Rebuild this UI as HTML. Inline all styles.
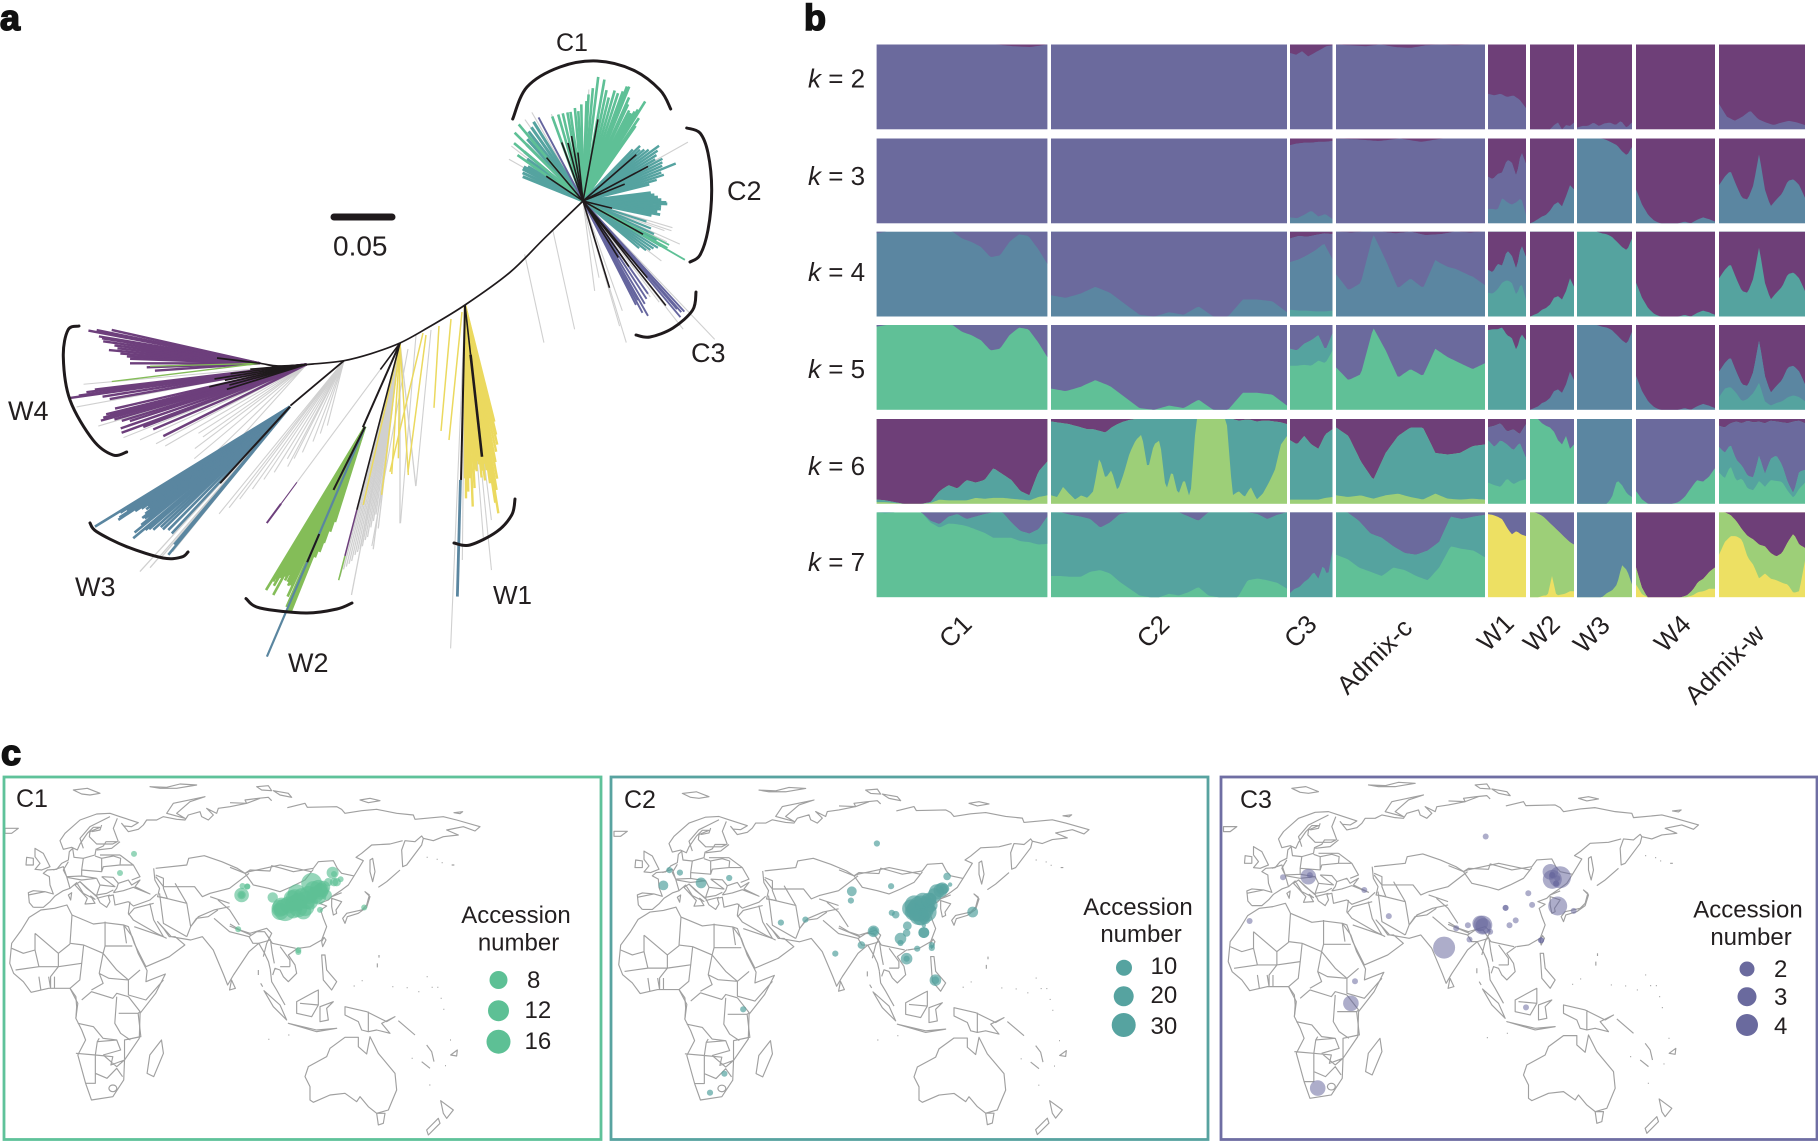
<!DOCTYPE html>
<html lang="en">
<head>
<meta charset="utf-8">
<title>Phylogeny, population structure and distribution of accessions</title>
<style>
html,body{margin:0;padding:0;background:#fff;}
svg{display:block;font-family:"Liberation Sans",sans-serif;}
.t{font-size:24px;fill:#231f20;}
.c{font-size:27px;fill:#231f20;}
.panel{font-size:36px;font-weight:700;fill:#111;stroke:#111;stroke-width:1.6px;}
#world path{fill:none;stroke:#a0a0a0;stroke-width:1.15;vector-effect:non-scaling-stroke;stroke-linejoin:round;}
</style>
</head>
<body>
<svg id="fig" xmlns="http://www.w3.org/2000/svg" width="1818" height="1142" viewBox="0 0 1818 1142">
<defs>
<clipPath id="clipC1"><rect x="5" y="778" width="595" height="360"/></clipPath>
<clipPath id="clipC2"><rect x="612" y="778" width="595" height="360"/></clipPath>
<clipPath id="clipC3"><rect x="1222" y="778" width="595" height="360"/></clipPath>
<g id="world">
<g transform="translate(0,770) scale(.33333)">
<path d="M100,412 L88,398 L85,368 L100,362 L135,365 L160,372 L150,345 L148,320 L130,310 L142,300 L170,298 L185,280 L205,270 L208,245 L218,235 L222,262 L250,265 L285,255 L288,238 L310,228 L318,215 L352,215 L338,222 L290,222 L268,200 L270,185 L300,172 L280,172 L262,190 L240,222 L232,240 L215,232 L190,238 L180,212 L195,190 L240,150 L290,132 L330,130 L360,140 L415,158 L395,170 L372,168 L365,160 L385,185 L415,178 L430,165 L440,150 L470,150 L490,140 L530,148 L555,150 L565,135 L600,125 L605,140 L625,150 L640,135 L620,115 L650,130 L655,115 L690,110 L740,100 L780,85"/>
<path d="M100,412 L130,412 L150,395 L165,378 L190,362 L210,355 L230,338 L250,370 L285,388 L272,378 L285,400 L255,402 L262,385 L225,345 L240,335 L260,355 L290,378 L300,398 L320,412 L330,395 L325,378 L340,375 L345,405 L385,395 L400,408 L450,390 L470,372"/>
<path d="M340,368 L350,355 L355,340 L385,330 L395,345 L420,330 L405,350 L450,372 L400,352 L370,362 L340,368"/>
<path d="M80,262 L100,265 L100,285 L78,285 Z M105,235 L130,250 L150,290 L125,300 L105,298 L120,280 L105,260 Z M15,175 L55,175 L35,190 L15,190 Z M500,130 L520,100 L615,80 L570,95 L530,130 L555,145 Z M220,60 L262,55 L300,70 L270,75 L245,72 Z M450,50 L500,52 L540,42 L590,45 L530,55 L480,55 Z M205,375 L215,368 L212,390 Z"/>
<path d="M352,145 L340,175 L355,215 M250,235 L240,205 L270,170 L300,155 L330,140 M305,165 L300,180 L275,185 M290,240 L335,235 L360,215 M300,255 L360,255 M250,265 L245,300 L305,305 L305,265 L285,258 M205,275 L190,300 L200,320 L245,318 L245,300 M160,300 L190,290 L200,320 L210,355 M305,265 L340,258 L362,265 L360,285 L310,290 M305,305 L310,290 L360,285 L400,285 L420,320 L395,330 M305,320 L340,322 L355,340 M305,320 L345,350 L300,345 L290,325 M245,318 L290,325 M200,322 L245,330 L290,325 M240,335 L290,380 M300,345 L290,375 L320,370 L340,360 M290,385 L330,375 M85,375 L135,365 M390,395 L385,430 L400,450 L470,490 L500,505 M360,255 L400,285"/>
</g>
<g transform="translate(230,770) scale(.33333)">
<path d="M0,98 L50,100 L45,90 L85,85 L115,82 L125,92 M172,113 L225,100 L232,112 L320,110 L335,118 L345,130 L395,122 L440,118 L500,130 L550,135 L555,148 L640,140 L680,150 L750,170 L735,183 L700,170 L650,180 L685,195 L640,200 L610,212 L580,205 L575,198 L555,215 L525,212 L515,240 L518,290 L530,285 L575,225 L580,205"/>
<path d="M518,212 L480,222 L425,225 L395,250 L378,262 L400,272 L372,318 L355,345 L335,360 L305,380 L295,390 L268,400 L290,408 L272,420 L280,445 L290,470 L275,510 L240,530 L205,535"/>
<path d="M420,270 L428,265 L435,305 L428,335 L420,305 Z M405,365 L418,375 L410,405 L395,420 L350,430 L338,445 L345,460 L352,440 L385,430 L410,412 L420,380 Z M305,385 L335,395 L318,420 L320,430 L310,435 L305,410 Z M282,502 L288,510 L278,530 L275,515 Z M80,50 L115,47 L125,62 L95,60 Z M130,62 L175,70 L185,82 L150,75 Z M390,90 L420,85 L450,92 L415,98 Z M672,128 L698,125 L690,131 Z"/>
<path d="M0,292 L45,310 L60,300 L120,303 L125,287 L155,295 L190,305 L250,295 L265,275 L310,272 L322,295 L335,310 L372,318 M45,310 L70,345 L115,355 L150,365 L185,350 L225,330 L250,298 M305,380 L335,368 M0,462 L30,480 L60,490 L110,475 L125,490 L110,520 L100,560 M590,262 h3 M620,268 h3 M635,278 h3 M665,285 h8 M510,300 L470,335 L445,352"/>
</g>
<g transform="translate(0,740) scale(.38911,.33333)">
<path d="M105,510 L75,532 L55,570 L30,610 L25,670 L35,700 L60,725 L80,757 L125,745 L180,745 L195,770 L197,800 L195,835 L210,870 L220,900 L200,945 L220,1030 L235,1080 L290,1070 L318,1020 L320,960 L358,895 L360,820 L400,760 L425,702 L375,725 L378,692 L355,640 L340,590 L318,555 L270,548 L240,552 L185,525 L172,495 L140,505 Z"/>
<path d="M318,555 L330,560 L345,610 L375,680 L435,650 L475,615 L450,590 L435,590 L420,565 L405,545 L440,590 L490,600 L520,590 L548,630 L575,705 L585,735 L600,705 L640,635 L665,610 L680,640 L690,665 L695,690"/>
<path d="M595,720 L605,745 L590,750 Z M415,900 L420,940 L395,1010 L378,1000 L385,945 Z M395,385 L398,420 L410,445 L405,470 L430,475 L420,445 L420,415 L400,405 M325,610 L318,555 M290,1035 a10,10 0 1 0 .1,0 Z"/>
<path d="M90,580 L150,640 L180,612 M185,525 L180,610 L215,615 M270,545 L270,618 M270,618 L340,618 M215,615 L265,640 L270,618 M265,640 L255,700 L265,730 L235,750 M215,615 L210,670 L150,680 L150,640 M90,630 L60,640 L30,625 M90,580 L90,630 L100,680 L150,680 M265,640 L300,690 L330,720 L360,690 M255,700 L280,715 L330,720 M330,720 L330,765 L375,780 L420,720 M150,680 L210,670 L205,720 L180,745 M150,680 L130,710 L130,745 M100,710 L105,750 M125,710 L130,745 M140,710 L140,745 M40,690 L100,680 M180,745 L200,790 L195,835 M200,850 L240,860 L265,895 L300,900 M210,780 L235,755 L290,775 L300,760 L330,770 M300,770 L295,850 L310,880 L335,900 M330,770 L360,815 L355,820 L305,820 M355,820 L362,890 L320,900 M195,940 L245,945 L250,905 L255,895 M195,940 L245,945 L245,1030 L220,1030 M245,945 L290,950 L285,975 L320,960 M320,960 L320,900 L360,890 M265,945 L300,980 L320,960 M250,905 L300,900 L310,930 L265,945 M245,1000 L275,1015 L300,985 L315,1010"/>
<path d="M400,385 L480,375 L485,355 L525,347 L570,365 L610,385 L630,400 L640,395 L720,375 L800,395 M400,410 L420,440 L500,440 L520,470 L540,460 L590,445 L640,400 M450,430 L480,490 M410,470 L480,490 L490,560 L510,530 L550,510 L590,500 M410,460 L420,550 L480,590 M540,470 L590,490 M560,480 L590,510 L615,555 M480,590 L490,560 L505,535 L535,530 L560,510 M550,535 L590,575 L640,590 L660,575 L680,575 L695,600 L665,610 M590,558 L645,585 M680,575 L700,610 L760,625 M640,590 L650,610 L665,610 M695,600 L700,640 L705,670 M720,620 L745,660 L745,680 M720,680 L745,680 M385,490 L395,540 L420,590 M330,525 L345,505 L395,490 M345,560 L420,590"/>
</g>
<g transform="translate(230,950) scale(.33333)">
<path d="M225,380 L235,350 L290,320 L300,295 L345,262 L385,262 L385,290 L410,312 L420,260 L445,310 L495,370 L500,420 L475,480 L440,490 L415,470 L390,440 L380,455 L345,430 L300,435 L250,457 L240,450 L240,410 Z M440,490 L465,490 L460,520 L445,525 Z M632,452 L670,480 L650,505 L640,490 Z M625,505 L630,520 L595,555 L590,540 Z"/>
<path d="M345,170 L410,185 L470,215 L495,200 L455,220 L480,250 L440,240 L415,245 L395,240 L385,215 L345,195 Z M415,185 L415,245 M102,122 L150,165 L170,210 L130,170 Z M175,220 L260,240 L320,235 L260,245 Z M200,155 L255,125 L265,120 L265,165 L245,200 L200,190 Z M270,170 L310,155 L290,175 L295,210 L270,215 Z M275,15 L285,15 L290,60 L320,95 L305,120 L280,90 Z M121,60 L125,95 L140,120 L165,165 M204,-6 L175,15 L195,45 L200,70 L175,95 L160,80 L150,60 L135,55 L128,75 M505,212 L555,255 M575,335 L600,355 M590,285 L605,305 L612,335 M662,315 L682,300 L680,318 Z M210,160 L265,165"/>
<path d="M371,108h3 M395,92h3 M487,110h3 M530,113h3 M565,125h3 M605,112h3 M622,112h3 M632,145h3 M590,80h3 M640,178h3 M660,270h3 M545,325h3 M645,347h3 M598,405h3 M115,268h3 M175,255h3 M447,15v8 M442,40v12 M85,60v15 M92,100l6,10"/>
</g>
</g>
</defs>

<g id="tree"></g>
<rect x="330.5" y="213.5" width="65" height="7" rx="3.5" fill="#1f1a1c"/>
<text class="c" x="333" y="255.5" style="font-size:28px">0.05</text>
<text class="c" x="556" y="51" style="font-size:25px">C1</text>
<text class="c" x="727" y="200">C2</text>
<text class="c" x="691" y="362">C3</text>
<text class="c" x="8" y="420">W4</text>
<text class="c" x="75" y="596">W3</text>
<text class="c" x="288" y="672">W2</text>
<text class="c" x="493" y="604" style="font-size:26px">W1</text>
<text class="panel" x="0" y="30">a</text>
<text class="panel" x="804" y="30">b</text>
<text class="panel" x="1" y="765">c</text>

<g id="structure"></g>

<g>
<g clip-path="url(#clipC1)"><use href="#world"/><g id="bubblesC1"></g></g>
<rect x="4" y="777" width="597" height="362.5" fill="none" stroke="#5fc29a" stroke-width="2.8"/>
<text class="t" x="16" y="807" style="font-size:25px">C1</text>
<text class="t" text-anchor="middle" x="516" y="923">Accession</text>
<text class="t" text-anchor="middle" x="518.5" y="950.5">number</text>
<circle cx="498.5" cy="980" r="9" fill="#5dc095"/><text class="t" x="527" y="988">8</text>
<circle cx="498.5" cy="1010.7" r="10.5" fill="#5dc095"/><text class="t" x="524.5" y="1018">12</text>
<circle cx="498.5" cy="1041.7" r="12" fill="#5dc095"/><text class="t" x="524.5" y="1049">16</text>
</g>
<g>
<g clip-path="url(#clipC2)"><use href="#world" transform="translate(609,12.1) scale(1,.989)"/><g id="bubblesC2"></g></g>
<rect x="611" y="777" width="597" height="362.5" fill="none" stroke="#58a3a0" stroke-width="2.8"/>
<text class="t" x="624" y="808" style="font-size:25px">C2</text>
<text class="t" text-anchor="middle" x="1138" y="915">Accession</text>
<text class="t" text-anchor="middle" x="1141" y="942">number</text>
<circle cx="1124" cy="967.7" r="8" fill="#56a3a0"/><text class="t" x="1150.5" y="974">10</text>
<circle cx="1123.7" cy="996.3" r="10" fill="#56a3a0"/><text class="t" x="1150.5" y="1003">20</text>
<circle cx="1123.7" cy="1025" r="12" fill="#56a3a0"/><text class="t" x="1150.5" y="1034">30</text>
</g>
<g>
<g clip-path="url(#clipC3)"><use href="#world" transform="translate(1218.5,-1.7)"/><g id="bubblesC3"></g></g>
<rect x="1221" y="777" width="596" height="362.5" fill="none" stroke="#6f6ea3" stroke-width="2.8"/>
<text class="t" x="1240" y="808" style="font-size:25px">C3</text>
<text class="t" text-anchor="middle" x="1748" y="917.5">Accession</text>
<text class="t" text-anchor="middle" x="1751" y="945">number</text>
<circle cx="1747" cy="969" r="7.5" fill="#6a6a9e"/><text class="t" x="1774" y="977">2</text>
<circle cx="1747" cy="996.7" r="9.5" fill="#6a6a9e"/><text class="t" x="1774" y="1005">3</text>
<circle cx="1747" cy="1025" r="11" fill="#6a6a9e"/><text class="t" x="1774" y="1034">4</text>
</g>
</svg>

<script>
/* ---------- panel a: tree data, in tree units relative to the C hub ---------- */
const backboneU=[0,-114,-219,-354,-462,-549,-636,-717,-810,-915,-969,-1098];
const backboneV=[0,110,214,312,378,426,458,479,489,495,487,471];

const c1GreenAngles=[-55,-56,-58,-59,-60,-61,-62,-63,-65,-66,-68,-69,-70,-72,-74,-76,-78,-80,-83,-85,-87,-88,-91,-93,-95,-98,-100,-103,-106,-110,-145,-140,-135,-130];
const c1GreenLengths=[275,300,352,320,310,300,300,305,320,340,370,368,350,340,345,320,340,370,375,340,320,300,290,270,280,270,270,270,270,270,240,270,290,300];
const c1TealAngles=[-158,-155,-152,-150,-148,-145,-143,-140,-135,-132,-128,-125,-122];
const c1TealLengths=[195,200,205,205,195,190,210,230,240,250,265,270,280];
const c2UpperAngles=[-14,-16,-18,-20,-22,-24,-26,-28,-30,-32,-34,-36,-38,-40,-42,-44,-46];
const c2UpperLengths=[205,230,255,250,300,260,265,270,250,260,270,282,250,240,230,238,215];
const c2MidAngles=[-7,-5,-3,-1,1,2,4,6,8,10,12];
const c2MidLengths=[205,215,225,235,250,253,235,235,225,235,210];
const c2LowerAngles=[18,22,25,28,30,32,34,36,38,40];
const c2LowerLengths=[200,220,235,250,270,265,255,250,240,220];
const c2GreenAngles=[30,29,27];
const c2GreenLengths=[353,290,290];
const c3PurpleAngles=[47.5,48.5,50,49,55,57,59,60.5,62,61,63,-118];
const c3PurpleLengths=[450,445,455,430,340,350,360,396,380,340,350,284];
const hubGrayAngles=[-142.5,-150.6,-125.5,-120,-110,-87,-79.6,-29.3,16.6,18.6,24,20,37.4,26,46.4,52,53,55,73,73.7,70.3,82.6,78.2];
const hubGrayLengths=[271,255,300,307,277,335,361,361,280,280,318,260,296,280,573,488,380,352,444,391,350,272,235];
const hubBlackAngles=[-100,-110,-130,-146,-104.5,-96,-79.6,-41,-22,-28,29,14,51.6,50,55,58,73];
const hubBlackLengths=[198,187,170,133,180,146,249,212,135,221,206,90,400,300,240,200,272];

const w4UpperAngles=[192.7,191.5,190.8,189.5,189,188,187,186,185,184,183,182,180,178,176];
const w4UpperLengths=[456,500,524,490,480,475,440,430,455,420,400,390,390,340,316];
const w4LowerAngles=[171.9,172.2,172.8,173.2,171,170,167,166,165.3,164.7,165.8,164,163,162.2,161,159.7,159,157,153.4];
const w4LowerLengths=[722,690,666,640,620,600,590,620,631,640,610,600,580,557,590,592,525,500,481];
const w4GrayAngles=[174.9,169.5,163.5,158.2,155.6,152.2,150,147.5,145,143,140,136,132];
const w4GrayLengths=[672,702,652,592,549,511,490,385,380,420,440,480,520];
const w4GreenAngles=[173,178.5];
const w4GreenLengths=[448,330];
const w4BlackAngles=[175,173,171,169,167,165,162.6];
const w4BlackLengths=[170,230,280,250,300,240,251];

const w3BlueAngles=[148.4,148,147.5,147,146.6,146,145.5,145,144.5,144,143.5,143,142.4,142,141.5,141,140,139.5,139,138,137,136,134.6,133,130,129.4];
const w3BlueLengths=[687,600,580,610,617,560,540,520,530,520,540,555,550,540,570,600,614,570,560,552,530,530,520,520,540,575];
const w3GrayAngles=[132.3,131,130.5,129];
const w3GrayLengths=[669,640,600,560];
const midGrayAngles=[125.5,122,114.4,104.4,129.2,127,124,120,117,128,118,111,108];
const midGrayLengths=[473,395,302,201,593,520,430,340,330,560,360,260,230];

const w2GreenAngles=[121.2,120.7,120.2,119.8,119.4,118.6,118,117.5,117,116.5,115.8,115.3,114.5,113.5,112.5,111.9,112.8,112,111,110,109.5,108.4,107.5];
const w2GreenLengths=[573,540,530,550,520,575,510,520,500,520,530,526,560,590,600,603,440,470,420,400,370,332,300];
const n2GrayAngles=[104.4,104,103.5,103,102.5,102,101.5,101,100.5,100,99.5,99,98.5,98,97.4,96.7,100.9,90,83.7];
const n2GrayLengths=[724,700,690,680,670,650,640,630,620,600,590,560,540,520,624,560,770,541,432];
const n2YellowAngles=[93.6,90.8,86.4,96.9,102.8];
const n2YellowLengths=[394,346,397,459,498];

const w1YellowAngles=[75.9,76.5,77,78,79,79.5,80.3,80.9,81.3,82,82.5,83,83.5,84,84.5,85,85.5,86,86.5,87,87.8,88.5,89,89.7,90];
const w1YellowLengths=[361,400,430,450,480,530,563,633,600,540,500,480,530,500,520,480,470,500,495,550,605,520,560,580,520];
const w1GrayAngles=[92.4,84.3,90.6,85.5,83];
const w1GrayLengths=[1031,799,765,700,650];

const sideOriginU=[-90,-175,-456,-501,-525];
const sideOriginV=[90,160,387,402,444];
const sideAngles=[77.6,77.7,95.5,94.7,100.4];
const sideLengths=[302,271,470,566,601];
const sideYellowU=[-471,-432,-396,-363,-480];
const sideYellowV=[402,375,354,333,396];
const sideYellowAngles=[97.5,93.5,95.1,95.8,103.4];
const sideYellowLengths=[414,246,337,386,428];

/* ---------- panel b: ancestry stacks, top-down layer heights in percent ---------- */
const kValues=[2,3,4,5,6,7];
const populations=['C1','C2','C3','Admix-c','W1','W2','W3','W4','Admix-w'];
const k2Stacks=[
 [['P',[0,0,0,0,0,0,0,0,2,3,0]],['V']],
 [['V']],
 [['P',[10,12,8,14,10,6,2,1]],['V']],
 [['P',[0,1,2,0,3,4,1,0,1,0,0]],['V']],
 [['P',[58,60,58,62,60,65,75]],['V']],
 [['P',[100,100,100,100,100,100,95,92,100,95,96,92]],['V']],
 [['P',[98,96,96,92,96,93,92,95,90,98,92]],['V']],
 [['P']],
 [['P',[70,85,90,85,78,88,92,95,92,90,92,95]],['V']]
];
const k3Stacks=[
 [['V']],
 [['V']],
 [['P',[8,6,5,5,4,4,3]],['V',[85,88,85,80,88,85,92]],['B']],
 [['P',[0,1,3,0,4,0,0,0]],['V']],
 [['P',[45,48,42,40,25,28,45,15,30]],['V',[38,35,42,30,50,50,30,55,60]],['B']],
 [['P',[100,98,95,92,90,85,78,75,80,68,55,60]],['B']],
 [['P',[0,0,0,0,0,0,2,5,8,15,20,10]],['B']],
 [['P',[60,78,90,97,100,100,100,100,98,100,96,93,95,98]],['B']],
 [['P',[55,45,38,55,70,72,55,18,60,80,72,65,50,48,55,70]],['B']]
];
const k4Stacks=[
 [['V',[2,0,0,0,0,0,0,0,0,8,12,18,30,28,12,3,5,20,38]],['B']],
 [['V',[75,78,73,65,72,85,98,100,95,98,88,100,100,80,80,82,95]],['B']],
 [['P',[8,5,6,4,2,3]],['V',[28,28,22,18,12,30]],['B',[56,60,65,72,80,60]],['T']],
 [['P',[0,1,0,0,2,0,4,3,0,1,0]],['V',[50,68,60,3,33,65,55,63,30,40,46,52,63]],['B']],
 [['P',[45,48,38,40,22,28,45,15,30]],['B',[27,25,30,20,35,32,30,45,50]],['T']],
 [['P',[100,98,96,92,90,86,78,76,80,70,55,65]],['T']],
 [['P',[0,0,0,0,0,2,3,6,12,18,22,8]],['T']],
 [['P',[60,78,90,97,100,100,100,100,98,100,96,93,95,98]],['T']],
 [['P',[55,45,38,55,70,72,55,18,60,80,72,65,50,48,55,70]],['T']]
];
const k5Stacks=[
 [['V',[2,0,0,0,0,0,0,0,0,8,12,18,30,28,12,3,5,20,38]],['G']],
 [['V',[75,78,73,65,72,85,98,100,95,98,88,100,100,80,80,82,95]],['G']],
 [['V',[28,30,22,18,12,30,10]],['T',[20,18,25,30,30,15,20]],['G']],
 [['V',[50,65,58,3,30,62,52,60,28,38,45,52,45]],['G']],
 [['P',[6,5,5,3,12,15,30,10,18]],['T']],
 [['P',[100,98,96,92,90,86,78,76,80,70,55,65]],['B']],
 [['P',[0,0,0,0,0,2,3,6,12,18,22,8]],['B']],
 [['P',[60,78,90,97,100,100,100,100,98,100,96,93,95,98]],['B']],
 [['P',[55,45,38,55,70,72,55,18,60,80,72,65,50,48,55,70]],['B',[30,30,35,25,20,15,25,50,30,15,20,25,35,35,30,20]],['T']]
];
const k6Stacks=[
 [['P',[95,96,98,100,100,100,98,85,78,82,72,75,72,58,65,72,85,90,62,50]],['T',[3,2,1,0,0,0,1,10,18,14,24,18,22,35,28,22,10,6,30,40]],['L']],
 [['P',[3,4,5,6,8,10,12,12,14,16,10,6,3,1,0,0,0,0,0,0,0,0,0,0,0,0,0,0,0,0,0,2,1,1,3,2,2,3,4,6]],['T',[87,88,75,82,87,80,81,73,31,54,50,79,62,39,25,18,60,30,25,85,60,90,70,95,0,0,0,0,0,0,90,83,91,79,92,86,73,57,26,14]],['L']],
 [['P',[25,30,20,30,35,18,12]],['T',[70,65,75,65,60,75,80]],['L']],
 [['P',[10,20,50,72,40,20,10,10,40,42,40,32,30]],['T',[80,72,40,22,50,68,82,85,48,52,55,62,65]],['L']],
 [['P',[10,8,5,15,12,18,6]],['V',[15,25,20,15,25,10,40]],['T',[50,45,55,40,40,45,25]],['G']],
 [['V',[0,0,0,5,8,10,15,25,30,20,35,30]],['G']],
 [['B',[100,100,100,100,100,100,100,92,72,78,88,92]],['G']],
 [['V',[85,95,100,100,100,100,100,98,92,82,72,74,68,58]],['G']],
 [['P',[8,10,5,3,5,2,4,3,5,2,3,4,5,3,2,5]],['V',[25,30,25,45,50,65,65,40,60,45,40,50,70,85,60,55]],['T',[30,30,25,25,15,15,15,30,15,25,30,20,10,5,20,15]],['G']]
];
const k7Stacks=[
 [['V',[0,0,0,0,0,0,10,14,5,2,8,5,2,0,0,12,22,25,20,5]],['T',[0,1,0,0,0,0,2,4,8,12,8,15,22,30,30,18,12,10,18,32]],['G']],
 [['V',[0,0,3,5,8,18,12,2,0,0,0,0,0,0,5,10,0,0,0,0,0,2,8,3,0]],['T',[75,75,73,71,62,50,60,80,90,98,100,100,96,98,89,78,98,100,100,100,80,76,72,80,90]],['G']],
 [['V',[95,90,88,82,78,70,78,62,75,45]],['T']],
 [['V',[0,0,10,25,30,40,48,50,45,35,5,8,5,3]],['T',[50,55,55,45,45,25,20,25,35,30,35,35,40,50]],['G']],
 [['V',[2,3,5,8,18,26,22,26,28]],['Y']],
 [['V',[0,0,2,5,10,15,20,25,30,35,38]],['L',[100,100,98,93,88,60,78,72,66,58,55]],['Y']],
 [['B',[100,100,100,100,100,100,95,92,85,62,68,85]],['L']],
 [['P',[65,88,100,100,100,100,100,100,100,98,92,82,78,70,65]],['L',[20,8,0,0,0,0,0,0,0,2,6,12,15,20,25]],['Y']],
 [['P',[0,0,3,10,20,28,32,38,40,48,52,48,35,25,38,42]],['L',[50,35,25,18,12,25,30,40,32,30,28,35,50,70,55,15]],['Y']]
];

/* ---------- panel c: accession locations ---------- */
const c1Lon=[38.6,32.5,85.7,85.7,85.7,86.1,88.2,88.2,99.3,84.2,104.7,103.2,102.5,106.1,108.3,110.5,113.4,115.6,112,114.9,117.1,119.3,120.7,116.3,109.8,107.6,122.9,119.3,112.7,125.5,126.1,123.6,126.1,127.3,129,120,139.3,110.5,110.5,109,114.2,117.8,121.5,102.5,108.3,110.5,120];
const c1Lat=[55.6,48.6,40.5,40.5,40.5,43.8,43.6,43.6,39.6,27.9,35,36.2,35.6,36.8,37.4,38,36.2,38,39.9,40.5,42.3,42.9,42.3,44.8,41.1,39.3,40.5,39.9,34.4,48.7,48.2,45.2,45.2,45.2,46.3,35,35.9,19.5,20.2,39.3,38.6,40.5,43.3,34.4,35,35.6,41.7];
const c1Count=[1,1,6,2,1,1,1,1,3,1,14,9,8,8,7,9,10,7,8,9,9,8,6,12,9,7,3,7,7,4,1,2,2,2,1,1,1,1,1,9,9,8,5,8,8,9,7];

const c2Lon=[97.2,127.9,129.2,103.4,86.2,85.8,6.4,11,3.8,20.3,32.6,55.2,65.9,79,95.7,95.7,90.4,103.7,105.4,107.5,107.5,110.5,110.2,117.7,117.7,114.8,110.2,110.2,121.2,121.2,122.8,122.8,139.1,38.7,30.5,24.2,117.7,116.5,113.6,119,115.6,112.2,117.3,120.7,125,122.4,126.7,120.7,118.2,114.8,118.2,116.5,113.1,123.3,125.8,119.9];
const c2Lat=[59.8,47.7,44.7,44.1,42.2,38.8,50,49.1,44.4,45.3,47.1,30.7,31.8,19.3,27.5,27.5,22.4,34.3,33.6,24.8,23.2,29.5,26.9,27,27,21.1,17.4,17.4,22.4,21.4,9.5,9.5,34.6,-1.2,-24.9,-31.9,29.7,35.9,37.1,34.6,33.4,35.9,38.3,37.1,42.6,40.8,43.2,39.5,32.2,35.2,36.5,32.8,34.6,42,43.2,38.9];
const c2Count=[2,3,1,2,5,2,2,2,5,6,2,2,2,2,7,4,3,2,3,7,2,4,3,6,6,2,7,2,2,2,7,3,6,2,2,2,1,35,20,20,20,17,17,10,10,10,5,7,7,25,20,15,15,12,8,12];

const c3Lon=[96.9,19.3,20,8.2,43.8,-6.4,54.5,39.7,37.9,23.4,78.7,84,89.1,95.6,94.5,95.8,98.8,89.8,105.6,105.6,107.3,110,115.5,117.2,121.1,121.1,114.5,128.4,135.4,125.2,129.4,126,126,126,126,127.7,127.7,128.2];
const c3Lat=[61.4,46.6,47.2,46.4,41.7,30.3,32.1,8.1,0,-31.2,20.5,27.6,28.7,28.8,29.4,28.5,26.3,23.5,35.1,35.1,28.7,30.5,40.5,36.2,23.2,23.2,-1.5,35.8,34,48.4,46.4,45.6,47.2,47.2,47.2,44.1,44.1,46];
const c3Count=[1,2,1,1,1,1,1,1,2,2,4,1,1,3,2,2,1,1,1,1,1,1,1,1,1,1,1,3,1,2,4,3,1,1,1,1,1,1];

/* ---------- scales and helpers ---------- */
const NS='http://www.w3.org/2000/svg';
const hubX=583, hubY=201, treeUnit=1/3;
function tx(u){return hubX+u*treeUnit;}
function ty(v){return hubY+v*treeUnit;}
const treeRoot=document.getElementById('tree');
function mk(tag,parent){const el=document.createElementNS(NS,tag);parent.appendChild(el);return el;}

function segment(u0,v0,ang,start,len,color,width,name){
  const a=ang*Math.PI/180;
  const el=mk('line',treeRoot);
  el.setAttribute('x1',tx(u0+start*Math.cos(a)));
  el.setAttribute('y1',ty(v0+start*Math.sin(a)));
  el.setAttribute('x2',tx(u0+len*Math.cos(a)));
  el.setAttribute('y2',ty(v0+len*Math.sin(a)));
  el.setAttribute('stroke',color);
  el.setAttribute('stroke-width',width);
  
  
}
function fan(u0,v0,angles,lengths,color,width,name){
  angles.forEach(function(ang,i){segment(u0,v0,ang,0,lengths[i],color,width,name);});
}
function smooth(p){
  let d='M'+p[0][0].toFixed(1)+','+p[0][1].toFixed(1);
  for(let i=0;i<p.length-1;i++){
    const a=p[Math.max(i-1,0)],b=p[i],c=p[i+1],e=p[Math.min(i+2,p.length-1)];
    d+=' C'+(b[0]+(c[0]-a[0])/6).toFixed(1)+','+(b[1]+(c[1]-a[1])/6).toFixed(1)+' '+(c[0]-(e[0]-b[0])/6).toFixed(1)+','+(c[1]-(e[1]-b[1])/6).toFixed(1)+' '+c[0].toFixed(1)+','+c[1].toFixed(1);
  }
  return d;
}
const GRAY='#d0d0d0',BLACK='#1f1a1c',GREEN='#5ec096',TEAL='#55a3a0',VIOLET='#65659e',PURPLE='#6d3f7c',BLUE='#5a86a0',LIME='#84bd58',GOLD='#ebd95f';
const NW4U=-969,NW4V=487,NW4LU=-829,NW4LV=490,NW3U=-879,NW3V=617,NMU=-717,NMV=479,N2U=-549,N2V=426,NW2U=-654,NW2V=677,N1U=-354,N1V=312;

/* grey leaves first */
fan(0,0,hubGrayAngles,hubGrayLengths,GRAY,1.1,'leaf-c-grey');
fan(NW4LU,NW4LV,w4GrayAngles,w4GrayLengths,GRAY,1.1,'leaf-w4-grey');
fan(NMU,NMV,midGrayAngles,midGrayLengths,GRAY,1.1,'leaf-mid-grey');
fan(NW3U,NW3V,w3GrayAngles,w3GrayLengths,GRAY,1.3,'leaf-w3-grey');
fan(N2U,N2V,n2GrayAngles,n2GrayLengths,GRAY,1.3,'leaf-w2-grey');
fan(N1U,N1V,w1GrayAngles,w1GrayLengths,GRAY,1.1,'leaf-w1-grey');
sideAngles.forEach(function(ang,i){segment(sideOriginU[i],sideOriginV[i],ang,0,sideLengths[i],GRAY,1.1,'leaf-side-grey');});
segment(N2U,N2V,126.5,99,520,GRAY,1.1,'leaf-long-grey');

/* coloured fans */
fan(0,0,c1TealAngles,c1TealLengths,TEAL,3,'leaf-c1-teal');
fan(0,0,c1GreenAngles,c1GreenLengths,GREEN,2.6,'leaf-c1-green');
fan(0,0,c2UpperAngles,c2UpperLengths,TEAL,2.4,'leaf-c2-upper');
fan(0,0,c2MidAngles,c2MidLengths,TEAL,2.8,'leaf-c2-mid');
fan(0,0,c2LowerAngles,c2LowerLengths,TEAL,2.2,'leaf-c2-lower');
fan(0,0,c2GreenAngles,c2GreenLengths,GREEN,1.8,'leaf-c2-green');
fan(0,0,c3PurpleAngles,c3PurpleLengths,VIOLET,1.9,'leaf-c3');
fan(NW4U,NW4V,w4UpperAngles,w4UpperLengths,PURPLE,2.4,'leaf-w4-upper');
fan(NW4LU,NW4LV,w4LowerAngles,w4LowerLengths,PURPLE,2.4,'leaf-w4-lower');
fan(NW4U,NW4V,w4GreenAngles,w4GreenLengths,LIME,1.3,'leaf-w4-green');
fan(NW3U,NW3V,w3BlueAngles,w3BlueLengths,BLUE,2.6,'leaf-w3');
fan(NW2U,NW2V,w2GreenAngles,w2GreenLengths,LIME,2.6,'leaf-w2');
segment(NW2U,NW2V,113.1,0,750,BLUE,2.2,'leaf-w2-blue');
segment(N2U,N2V,126.5,520,600,PURPLE,1.1,'leaf-purple-long');
segment(N2U,N2V,126.5,600,672,PURPLE,2,'leaf-purple-long-tip');
fan(N2U,N2V,n2YellowAngles,n2YellowLengths,GOLD,1.5,'leaf-yellow');
sideYellowAngles.forEach(function(ang,i){segment(sideYellowU[i],sideYellowV[i],ang,0,sideYellowLengths[i],GOLD,1.5,'leaf-side-yellow');});
fan(N1U,N1V,w1YellowAngles,w1YellowLengths,GOLD,2.4,'leaf-w1');
segment(N1U,N1V,91.5,525,875,BLUE,2.8,'leaf-w1-blue');
segment(N2U,N2V,104.5,517,660,PURPLE,1.5,'leaf-purple-short');
segment(N2U,N2V,104.5,660,735,LIME,1.5,'leaf-green-short');

/* black internal branches */
fan(0,0,hubBlackAngles,hubBlackLengths,BLACK,1.6,'internal-branch-c');
fan(NW4LU,NW4LV,w4BlackAngles,w4BlackLengths,BLACK,1.7,'internal-branch-w4');
segment(N1U,N1V,83.6,0,150,BLACK,1.6,'internal-branch-w1-base');
segment(N1U,N1V,83.6,150,458,BLACK,2.6,'internal-branch-w1');
segment(N1U,N1V,91.3,0,525,BLACK,2,'internal-branch-w1-stem');
segment(N2U,N2V,113.8,0,276,BLACK,2,'internal-branch-w2-stem');
segment(NW2U,NW2V,116.5,0,212,BLACK,2,'internal-branch-w2');
segment(NW2U,NW2V,113.1,350,442,BLACK,2,'internal-branch-w2-tip');
segment(N2U,N2V,104.5,0,517,BLACK,1.6,'internal-branch-side');
segment(N2U,N2V,126.5,0,99,BLACK,1.6,'internal-branch-purple');
segment(NMU,NMV,140,0,210,BLACK,1.8,'internal-branch-w3-stem');
segment(NW3U,NW3V,132.4,0,311,BLACK,2,'internal-branch-w3');

const backbone=mk('path',treeRoot);
backbone.setAttribute('d',smooth(backboneU.map(function(u,i){return [tx(u),ty(backboneV[i])];})));
backbone.setAttribute('fill','none');
backbone.setAttribute('stroke',BLACK);
backbone.setAttribute('stroke-width','1.7');
backbone.setAttribute('stroke-linejoin','round');



/* clade brackets */
const bracketC1=[[512.7,119],[527,87],[560,67],[597,61],[633,70],[660,90],[670.7,109]];
const bracketC2=[[686.7,128],[700,133],[708,153],[711.7,190],[708,230],[700,255],[690,262]];
const bracketC3=[[696,292],[692.7,310],[673,328],[650,337],[636,335]];
const bracketW4=[[79,326],[68,330],[63.3,356.7],[70,400],[93,440],[113,455],[126.7,452]];
const bracketW3=[[90,523],[96.7,531.7],[126.7,546.7],[163,558],[181.7,557],[188,552]];
const bracketW2=[[246,598.6],[260,608],[306,613],[337,609],[352,603]];
const bracketW1=[[454,543],[470,545],[496.7,531.7],[511.7,515],[515,499]];
[bracketC1,bracketC2,bracketC3,bracketW4,bracketW3,bracketW2,bracketW1].forEach(function(pts){
  const el=mk('path',treeRoot);
  el.setAttribute('d',smooth(pts));
  el.setAttribute('fill','none');
  el.setAttribute('stroke',BLACK);
  el.setAttribute('stroke-width','3');
  el.setAttribute('stroke-linecap','round');
  
  
});

/* ---------- panel b rendering ---------- */
const clusterColor={V:'#6b6a9d',P:'#6e3f78',B:'#5b86a1',T:'#55a39f',G:'#60c097',L:'#9dcf78',Y:'#ede063'};
const structRoot=document.getElementById('structure');
const groupLeft=[876.6,1051,1290,1336,1488,1530,1577,1636,1719];
const groupRight=[1047.4,1287,1332.5,1485,1526,1574,1632,1715,1805];
const rowTop=[44.5,138.5,231.7,325,419,512.4];
const rowHeight=84.8;
const kBaseline=[87.5,185,281,378,475,571];
const allStacks=[k2Stacks,k3Stacks,k4Stacks,k5Stacks,k6Stacks,k7Stacks];
function xOf(g,t){return groupLeft[g]+t*(groupRight[g]-groupLeft[g]);}
function yOf(r,pct){return rowTop[r]+pct/100*rowHeight;}
function sampleAt(arr,t){
  if(arr.length<2)return arr[0];
  const f=t*(arr.length-1), i=Math.min(Math.floor(f),arr.length-2);
  return arr[i]+(arr[i+1]-arr[i])*(f-i);
}
allStacks.forEach(function(stack,r){
  stack.forEach(function(layers,g){
    const base=layers[layers.length-1][0];
    const bg=mk('rect',structRoot);
    bg.setAttribute('x',groupLeft[g]);
    bg.setAttribute('y',rowTop[r]);
    bg.setAttribute('width',groupRight[g]-groupLeft[g]);
    bg.setAttribute('height',rowHeight);
    bg.setAttribute('fill',clusterColor[base]);
    
    
    const steps=Math.max(8,Math.round((groupRight[g]-groupLeft[g])/2));
    let cum=new Array(steps+1).fill(0);
    layers.slice(0,-1).forEach(function(layer){
      const vals=layer[1];
      const next=cum.map(function(c,i){return Math.min(100,c+sampleAt(vals,i/steps));});
      let d='M'+xOf(g,0).toFixed(1)+','+yOf(r,cum[0]).toFixed(1);
      for(let i=1;i<=steps;i++){d+=' L'+xOf(g,i/steps).toFixed(1)+','+yOf(r,cum[i]).toFixed(1);}
      for(let i=steps;i>=0;i--){d+=' L'+xOf(g,i/steps).toFixed(1)+','+yOf(r,next[i]).toFixed(1);}
      const el=mk('path',structRoot);
      el.setAttribute('d',d+' Z');
      el.setAttribute('fill',clusterColor[layer[0]]);
      
      
      cum=next;
    });
  });
  const label=mk('text',structRoot);
  label.setAttribute('class','t');
  label.setAttribute('style','font-size:26px');
  label.setAttribute('x','808');
  label.setAttribute('y',kBaseline[r]);
  
  
  const it=mk('tspan',label);
  it.setAttribute('font-style','italic');
  it.textContent='k';
  const rest=mk('tspan',label);
  rest.textContent=' = '+kValues[r];
});
const popLabelX=[956,1153.6,1301,1375,1496,1542,1592,1673,1725];
const popLabelY=[632,632,632,657,633,634,635,634,665];
populations.forEach(function(name,i){
  const el=mk('text',structRoot);
  el.setAttribute('class','t');
  el.setAttribute('style','font-size:26px');
  el.setAttribute('text-anchor','middle');
  el.setAttribute('transform','translate('+popLabelX[i]+','+popLabelY[i]+') rotate(-45) translate(0,8)');
  
  
  el.textContent=name;
});

/* ---------- panel c rendering ---------- */
function projX(lon){return 91.44+2.286*(lon-20);}
function projY(lat){return 1005-2.717*lat;}
function radiusC1(n){return 3*Math.sqrt(n);}
function radiusC2(n){return 2.2*Math.sqrt(n);}
function radiusC3(n){return n===1?3:5.5*Math.sqrt(n);}
function drawBubbles(id,lons,lats,counts,radius,dx,dy,color,opacity){
  const g=document.getElementById(id);
  lons.forEach(function(lon,i){
    const c=mk('circle',g);
    c.setAttribute('cx',(projX(lon)+dx).toFixed(1));
    c.setAttribute('cy',(projY(lats[i])+dy).toFixed(1));
    c.setAttribute('r',radius(counts[i]).toFixed(1));
    c.setAttribute('fill',color);
    c.setAttribute('fill-opacity',opacity);
    
    
  });
}
drawBubbles('bubblesC1',c1Lon,c1Lat,c1Count,radiusC1,0,0,'#5dc095',.65);
drawBubbles('bubblesC2',c2Lon,c2Lat,c2Count,radiusC2,609,1,'#56a3a0',.7);
drawBubbles('bubblesC3',c3Lon,c3Lat,c3Count,radiusC3,1218.5,-1.7,'#6a6a9e',.55);
</script>
</body>
</html>
